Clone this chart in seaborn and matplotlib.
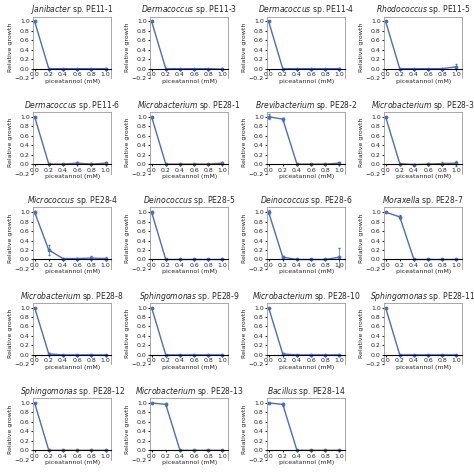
import matplotlib
matplotlib.use("Agg")
import matplotlib.pyplot as plt
import seaborn as sns
import pandas as pd

sns.set_style("white")
plt.rcParams['font.family'] = ['DejaVu Sans']

conc = [0, 0.2, 0.4, 0.6, 0.8, 1.0]
genera = ["Janibacter", "Dermacoccus", "Dermacoccus", "Rhodococcus", "Dermacoccus", "Microbacterium",
          "Brevibacterium", "Microbacterium", "Micrococcus", "Deinococcus", "Deinococcus", "Moraxella",
          "Microbacterium", "Sphingomonas", "Microbacterium", "Sphingomonas", "Sphingomonas",
          "Microbacterium", "Bacillus"]
strains = ["PE11-1", "PE11-3", "PE11-4", "PE11-5", "PE11-6", "PE28-1", "PE28-2", "PE28-3", "PE28-4",
           "PE28-5", "PE28-6", "PE28-7", "PE28-8", "PE28-9", "PE28-10", "PE28-11", "PE28-12",
           "PE28-13", "PE28-14"]
growth = [
    [1, 0, 0, 0, 0, 0],
    [1, 0, 0, 0, 0, -0.01],
    [1, 0, 0, 0, 0, 0],
    [1, 0, 0, 0, 0, 0.04],
    [1, 0, 0, 0.02, 0, 0.02],
    [1, 0, 0, 0, 0, 0.02],
    [1, 0.95, 0, 0, 0, 0.02],
    [1, 0.01, -0.01, 0, 0.01, 0.02],
    [1, 0.2, 0.02, 0.02, 0.03, 0.02],
    [1, 0, 0, 0, 0, 0],
    [1, 0.05, 0, 0, 0, 0.05],
    [1, 0.9, 0, 0, 0, 0],
    [1, 0.02, 0, 0, 0, 0],
    [1, 0, 0, 0, 0, 0],
    [1, 0.02, 0, 0, 0, 0],
    [1, 0, 0, 0, 0, 0],
    [1, 0, 0, 0, 0, 0],
    [1, 0.97, 0, 0, 0, 0],
    [1, 0.97, 0, 0, 0, 0],
]
errors = [
    [0, 0, 0, 0, 0, 0.01],
    [0, 0, 0, 0, 0, 0.02],
    [0, 0, 0, 0, 0, 0.01],
    [0, 0, 0, 0, 0.02, 0.05],
    [0, 0, 0, 0.02, 0.02, 0.03],
    [0, 0, 0, 0, 0.01, 0.03],
    [0.05, 0.03, 0, 0.01, 0.01, 0.03],
    [0, 0.02, 0.01, 0.02, 0.03, 0.05],
    [0.03, 0.1, 0.02, 0.02, 0.04, 0.04],
    [0.03, 0, 0, 0, 0, 0],
    [0.04, 0.03, 0, 0, 0, 0.2],
    [0, 0.05, 0, 0, 0, 0],
    [0, 0.02, 0, 0, 0, 0],
    [0, 0, 0, 0, 0, 0],
    [0, 0.02, 0, 0, 0, 0],
    [0, 0, 0, 0, 0, 0],
    [0, 0, 0, 0, 0, 0],
    [0, 0.03, 0, 0, 0, 0],
    [0, 0.03, 0, 0, 0, 0],
]

fig, axes = plt.subplots(5, 4, figsize=(4.74, 4.74), dpi=100)
fig.subplots_adjust(left=0.07, right=0.975, top=0.965, bottom=0.03, wspace=0.5, hspace=0.55)
for i, ax in enumerate(axes.flat):
    if i >= len(growth):
        ax.axis("off")
        continue
    df = pd.DataFrame({"c": conc, "g": growth[i]})
    sns.lineplot(data=df, x="c", y="g", ax=ax, color="#4a6fb5", lw=1, marker="o", ms=2, mec="#4a6fb5")
    ax.errorbar(conc, growth[i], yerr=errors[i], fmt="none", ecolor="#4a6fb5", elinewidth=0.5, capsize=1)
    ax.set_xlim(-0.02, 1.08)
    ax.set_ylim(-0.2, 1.1)
    ax.set_yticks([-0.2, 0, 0.2, 0.4, 0.6, 0.8, 1.0])
    ax.set_xticks(conc)
    ax.set_xticklabels(["0.0", "0.2", "0.4", "0.6", "0.8", "1.0"])
    ax.spines['bottom'].set_position(('data', 0))
    ax.axhline(-0.2, color="#999999", lw=0.6)
    for s in ['top', 'right', 'left']:
        ax.spines[s].set_color("#999999")
        ax.spines[s].set_linewidth(0.6)
    ax.spines['bottom'].set_color("black")
    ax.spines['bottom'].set_linewidth(0.8)
    ax.tick_params(labelsize=4.5, length=1.5, pad=1, direction="out", bottom=True, left=True)
    ax.set_xlabel("piceatannol (mM)", fontsize=4.5, labelpad=1)
    ax.set_ylabel("Relative growth", fontsize=4.5, labelpad=1)
    ax.set_title(r"$\it{" + genera[i] + r"}$ sp. " + strains[i], fontsize=5.5, pad=3)
fig.savefig("out.png", dpi=100)
